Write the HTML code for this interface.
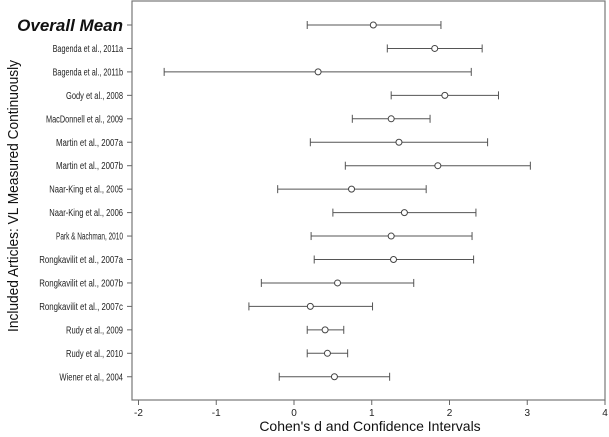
<!DOCTYPE html>
<html><head><meta charset="utf-8"><style>
html,body{margin:0;padding:0;background:#fff;}
svg{display:block;font-family:"Liberation Sans",Arial,sans-serif;}
</style></head><body>
<svg id="chart" width="609" height="437"></svg>
<script>
const labels=["Overall Mean","Bagenda et al., 2011a","Bagenda et al., 2011b","Gody et al., 2008","MacDonnell et al., 2009","Martin et al., 2007a","Martin et al., 2007b","Naar-King et al., 2005","Naar-King et al., 2006","Park & Nachman, 2010","Rongkavilit et al., 2007a","Rongkavilit et al., 2007b","Rongkavilit et al., 2007c","Rudy et al., 2009","Rudy et al., 2010","Wiener et al., 2004"];
const means=[1.02,1.81,0.31,1.94,1.25,1.35,1.85,0.74,1.42,1.25,1.28,0.56,0.21,0.40,0.43,0.52];
const lows=[0.17,1.20,-1.67,1.25,0.75,0.21,0.66,-0.21,0.50,0.22,0.26,-0.42,-0.58,0.17,0.17,-0.19];
const highs=[1.89,2.42,2.28,2.63,1.75,2.49,3.04,1.70,2.34,2.29,2.31,1.54,1.01,0.64,0.69,1.23];
const xTicks=[-2,-1,0,1,2,3,4];
const NS="http://www.w3.org/2000/svg";
const svg=document.getElementById('chart');
const L=132,R=605,T=1,B=400;
const x0=294,k=77.75;
function sx(v){return x0+v*k;}
function sy(i){return 25+i*23.45;}
function mk(tag,attrs,parent){const e=document.createElementNS(NS,tag);for(const a in attrs)e.setAttribute(a,attrs[a]);(parent||svg).appendChild(e);return e;}
const frame=mk('rect',{x:L,y:T,width:R-L,height:B-T,fill:'none',stroke:'#777','stroke-width':1.2});


xTicks.forEach(t=>{
  const g=mk('g',{});
  
  
  mk('line',{x1:sx(t),x2:sx(t),y1:B,y2:B+5,stroke:'#666'},g);
  const tx=mk('text',{x:sx(t),y:B+16,'text-anchor':'middle','font-size':10,fill:'#222'},g);
  tx.textContent=t;
});
labels.forEach((lab,i)=>{
  const y=sy(i);
  const g=mk('g',{});
  
  
  mk('line',{x1:L-5,x2:L,y1:y,y2:y,stroke:'#666'},g);
  const tx=mk('text',{x:L-9,y:y+(i===0?6:3.5),'text-anchor':'end','font-size':i===0?17:10,fill:'#222'},g);
  if(i===0){tx.setAttribute('font-weight','bold');tx.setAttribute('font-style','italic');tx.setAttribute('fill','#111');}
  else{tx.setAttribute('textLength',(lab.length*3.35).toFixed(1));tx.setAttribute('lengthAdjust','spacingAndGlyphs');}
  tx.textContent=lab;
  const ci=mk('g',{},g);
  
  
  mk('line',{x1:sx(lows[i]),x2:sx(highs[i]),y1:y,y2:y,stroke:'#555','stroke-width':1},ci);
  mk('line',{x1:sx(lows[i]),x2:sx(lows[i]),y1:y-4,y2:y+4,stroke:'#555'},ci);
  mk('line',{x1:sx(highs[i]),x2:sx(highs[i]),y1:y-4,y2:y+4,stroke:'#555'},ci);
  const c=mk('circle',{cx:sx(means[i]),cy:y,r:3,fill:'#fff',stroke:'#444'},ci);
  
  
});
const xt=mk('text',{x:370,y:431,'text-anchor':'middle','font-size':14,fill:'#111'});


xt.textContent="Cohen's d and Confidence Intervals";
const yt=mk('text',{x:0,y:0,'text-anchor':'middle','font-size':15,fill:'#111',textLength:272,lengthAdjust:'spacingAndGlyphs',transform:'translate(18,196) rotate(-90)'});


yt.textContent="Included Articles: VL Measured Continuously";
</script>
</body></html>
